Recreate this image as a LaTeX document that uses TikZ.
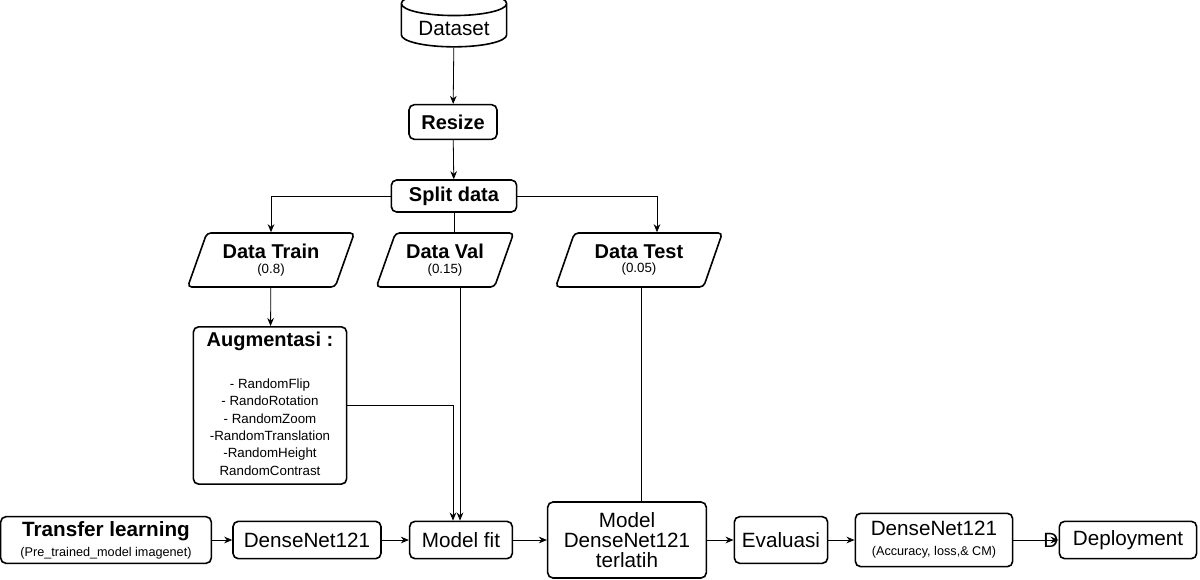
\documentclass[tikz,border=0pt]{standalone}
\usepackage{fontspec}
\setmainfont{Liberation Sans}
\usetikzlibrary{shapes.geometric,arrows.meta}
\tikzset{
  box/.style={draw,line width=1.2pt,rounded corners=4pt,align=center,font=\fontsize{15.5}{17}\selectfont,inner sep=2pt},
  para/.style={draw,line width=1.2pt,rounded corners=3pt,trapezium,trapezium left angle=61,trapezium right angle=119,trapezium stretches body,align=center,inner sep=1pt,minimum height=40.5pt,minimum width=125pt},
  small/.style={font=\fontsize{10}{13}\selectfont},
  arr/.style={-{Stealth[length=6pt,width=5pt]},line width=0.6pt},
  ln/.style={line width=0.6pt}
}
\begin{document}
\begin{tikzpicture}[x=0.75pt,y=-0.75pt]
	\useasboundingbox (0,0) rectangle (1200,579);
	% top part
	\node[draw,line width=1.2pt,cylinder,shape border rotate=90,aspect=0.3,minimum width=79pt,minimum height=36pt,font=\fontsize{15.5}{17}\selectfont] (dataset) at (454,28) {Dataset};
	\node[box,font=\fontsize{15}{17}\bfseries\selectfont,minimum width=66pt,minimum height=26pt] (resize) at (453,122) {Resize};
	\node[box,font=\fontsize{15}{17}\bfseries\selectfont,minimum width=94pt,minimum height=24pt] (split) at (454,196) {Split data};
	\node[para] (train) at (271,260) {\textbf{\fontsize{15}{16}\selectfont Data Train}\\[-1pt]{\fontsize{10}{11}\selectfont(0.8)}};
	\node[para,minimum width=103pt] (val) at (445,260) {\textbf{\fontsize{15}{16}\selectfont Data Val}\\[-1pt]{\fontsize{10}{11}\selectfont(0.15)}};
	\node[para] (test) at (639,260) {\textbf{\fontsize{15}{16}\selectfont Data Test}\\[-1pt]{\fontsize{10}{11}\selectfont(0.05)}};
	\node[box,minimum width=115pt,minimum height=118pt,anchor=north,inner sep=3pt] (aug) at (270,326) {};
	\node[font=\fontsize{15}{17}\bfseries\selectfont,below=1pt] (augt) at (aug.north) {Augmentasi :};
	\node[small,align=center] (augl) at (270,427) {- RandomFlip\\- RandoRotation\\- RandomZoom\\-RandomTranslation\\-RandomHeight\\RandomContrast};
	% bottom row
	\node[box,minimum width=158pt,minimum height=35pt] (transfer) at (106,540) {\textbf{Transfer learning}\\[-2pt]{\fontsize{9.5}{10}\selectfont(Pre\_trained\_model imagenet)}};
	\node[box,minimum width=111pt,minimum height=28pt] (dense) at (307,540) {DenseNet121};
	\node[box,minimum width=77pt,minimum height=28pt] (fit) at (461,540) {Model fit};
	\node[box,minimum width=119pt,minimum height=57pt,inner sep=0pt,font=\fontsize{15.5}{15}\selectfont] (trained) at (627,540) {Model\\DenseNet121\\terlatih};
	\node[box,minimum width=70pt,minimum height=35pt] (eval) at (781,540) {Evaluasi};
	\node[box,minimum width=118pt,minimum height=40pt] (res) at (934,540) {DenseNet121\\[-2pt]{\fontsize{9.5}{10}\selectfont(Accuracy, loss,\& CM)}};
	\node[box,minimum width=103pt,minimum height=28pt] (deploy) at (1128,540) {Deployment};
	\node[font=\fontsize{15.5}{17}\selectfont,anchor=east,inner sep=0pt] (dmark) at (deploy.west) {D};
	% connectors
	\draw[arr] (dataset) -- (resize);
	\draw[arr] (resize) -- (split);
	\draw[arr] (split.west) -| (train.north);
	\draw[arr] (split.east) -| (test.north -| 657,0);
	\draw[ln] (split.south) -- (split.south |- val.north);
	\draw[arr] (train) -- (aug);
	\draw[arr] (aug.east |- 0,405) -| (fit.north -| 453,0);
	\draw[arr] (val.south -| 460,0) -- (fit.north -| 460,0);
	\draw[ln] (test.south -| 641,0) -- (trained.north -| 641,0);
	\draw[arr] (transfer) -- (dense);
	\draw[arr] (dense) -- (fit);
	\draw[arr] (fit) -- (trained);
	\draw[arr] (trained) -- (eval);
	\draw[arr] (eval) -- (res);
	\draw[arr] (res) -- (deploy);
\end{tikzpicture}
\end{document}
